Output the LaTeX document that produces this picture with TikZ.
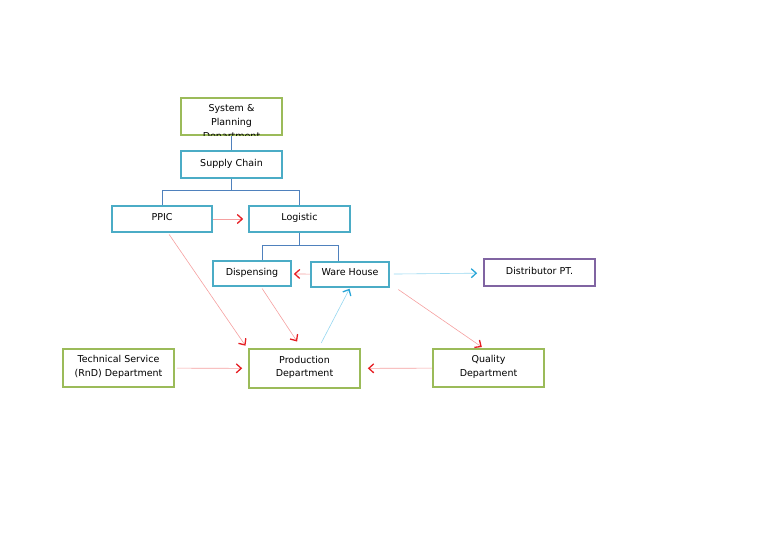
\documentclass[tikz,border=0pt]{standalone}
\usepackage{fontspec}
\setmainfont{DejaVu Sans}
\usetikzlibrary{arrows.meta, positioning, calc}
\definecolor{deptgreen}{RGB}{155, 187, 89}
\definecolor{unitblue}{RGB}{75, 172, 198}
\definecolor{treeblue}{RGB}{79, 129, 189}
\definecolor{partnerpurple}{RGB}{128, 100, 162}
\definecolor{linkpink}{RGB}{245, 160, 160}
\definecolor{tipred}{RGB}{230, 30, 35}
\definecolor{linkcyan}{RGB}{150, 215, 240}
\definecolor{tipcyan}{RGB}{40, 165, 215}

\begin{document}
\begin{tikzpicture}[
    x=1pt, y=-1pt,
    box/.style={draw, line width=1.6pt, fill=white, minimum width=101pt, minimum height=27pt, inner sep=0pt, text depth=4pt, font=\fontsize{9.5}{13.5}\selectfont, align=center},
    dept/.style={box, draw=deptgreen},
    unit/.style={box, draw=unitblue},
    partner/.style={box, draw=partnerpurple},
    tree/.style={draw=treeblue, line width=0.8pt},
    redlink/.style={draw=linkpink, line width=0.6pt, -{Straight Barb[color=tipred, length=5pt, width=9pt, line width=1.3pt]}},
    cyanlink/.style={draw=linkcyan, line width=0.6pt, -{Straight Barb[color=tipcyan, length=5pt, width=9pt, line width=1.3pt]}}
]
    \useasboundingbox (0,0) rectangle (768,543);

    % Main entities
    \node[dept, minimum height=37pt] (sys) at (231.5,116.5) {};
    \begin{scope}
        \clip (sys.north west) rectangle (sys.south east);
        \node[font=\fontsize{9.5}{14}\selectfont, align=center, anchor=north, inner sep=0pt] (systext) at ([yshift=-7]sys.north) {System \&\\Planning\\Department};
    \end{scope}
    \node[unit] (supply) at (231.5,164.5) {Supply Chain};
    \node[unit, minimum width=100pt, minimum height=26pt] (ppic) at (162,219) {PPIC};
    \node[unit, minimum height=26pt] (logistic) at (299.5,219) {Logistic};
    \node[unit, minimum width=78pt, minimum height=25pt] (dispensing) at (252,273.5) {Dispensing};
    \node[unit, minimum width=78pt, minimum height=25pt] (warehouse) at (350,274.5) {Ware House};
    \node[partner, minimum width=111pt] (distributor) at (539.5,272.5) {Distributor PT.};
    \node[dept, minimum width=111pt, minimum height=38pt] (technical) at (118.5,368) {Technical Service\\(RnD) Department};
    \node[dept, minimum width=111pt, minimum height=39pt] (production) at (304.5,368.5) {Production\\Department};
    \node[dept, minimum width=111pt, minimum height=38pt] (quality) at (488.5,368) {Quality\\Department};

    % Structure
    \coordinate (split1) at ($(supply.south)+(0,12)$);
    \coordinate (split2) at ($(logistic.south)+(0,13)$);
    \draw[tree] (sys.south) -- (supply.north);
    \draw[tree] (supply.south) -- (split1);
    \draw[tree] (ppic.north) |- (split1) -| (logistic.north);
    \draw[tree] (logistic.south) -- (split2);
    \draw[tree] ([xshift=10]dispensing.north) |- (split2) -| ([xshift=-12]warehouse.north);

    % Flows
    \draw[redlink, shorten >=5pt] (ppic) -- (logistic);
    \draw[redlink, shorten >=2pt] (warehouse) -- (dispensing);
    \draw[cyanlink, shorten <=4pt, shorten >=6pt] (warehouse) -- (distributor);
    \draw[redlink, shorten <=2pt, shorten >=3pt] ([xshift=6]ppic.south) -- ([xshift=-1]production.north west);
    \draw[redlink, shorten <=2pt, shorten >=8pt] ([xshift=9]dispensing.south) -- ([xshift=-3]production.north);
    \draw[cyanlink, shorten <=6pt, shorten >=1pt] ([xshift=14]production.north) -- (warehouse.south);
    \draw[redlink, shorten <=3pt, shorten >=2pt] ([xshift=6]warehouse.south east) -- ([xshift=-5]quality.north);
    \draw[redlink, shorten <=2pt, shorten >=6pt] (technical) -- (production);
    \draw[redlink, shorten >=7pt] (quality) -- (production);
\end{tikzpicture}
\end{document}
